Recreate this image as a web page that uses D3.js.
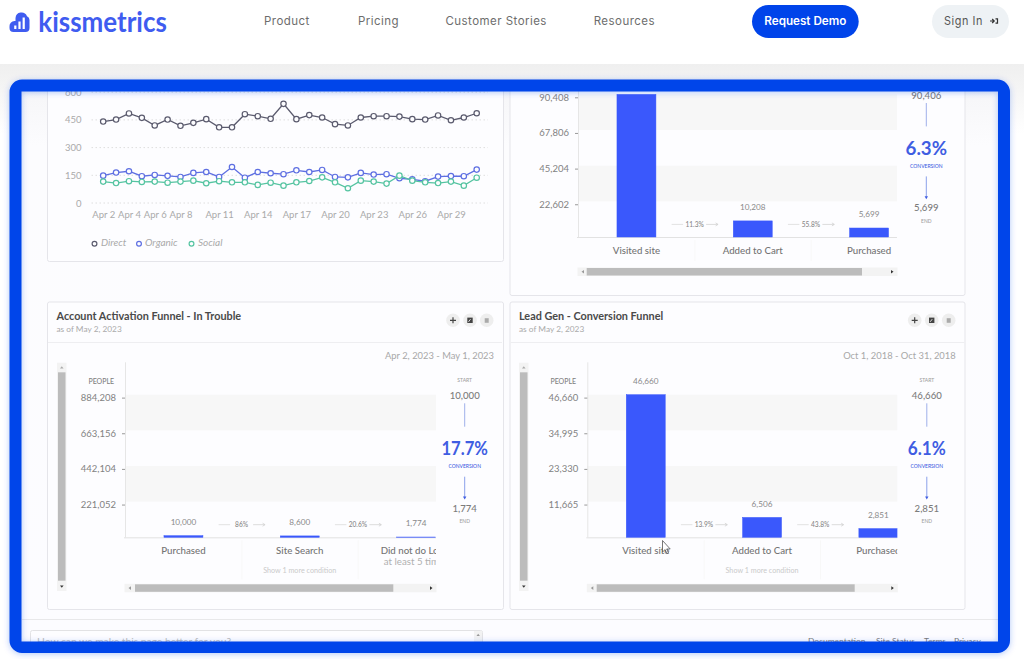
<!DOCTYPE html>
<html>
<head>
<meta charset="utf-8">
<script src="https://cdn.jsdelivr.net/npm/d3@7/dist/d3.min.js"></script>
<style>
html,body{margin:0;padding:0;background:#fff;overflow:hidden}
svg{display:block}
text{font-family:Lato,"Open Sans",sans-serif}
</style>
</head>
<body>
<svg id="page" width="1024" height="659"></svg>
<script>
// Daily people per traffic source, Apr 2 to May 1
const dayLabels = ["Apr 2","Apr 3","Apr 4","Apr 5","Apr 6","Apr 7","Apr 8","Apr 9","Apr 10","Apr 11","Apr 12","Apr 13","Apr 14","Apr 15","Apr 16","Apr 17","Apr 18","Apr 19","Apr 20","Apr 21","Apr 22","Apr 23","Apr 24","Apr 25","Apr 26","Apr 27","Apr 28","Apr 29","Apr 30","May 1"];
const dayTicks = ["Apr 2","Apr 4","Apr 6","Apr 8","Apr 11","Apr 14","Apr 17","Apr 20","Apr 23","Apr 26","Apr 29"];
const direct = [441,452,485,461,420,452,418,434,454,410,410,481,470,456,537,454,476,463,427,420,463,470,470,468,454,452,474,448,463,486];
const organic = [148,165,172,145,152,147,141,163,168,141,195,137,168,161,156,177,168,179,141,139,163,154,156,134,128,118,143,146,145,181];
const social = [116,108,118,114,116,110,116,121,107,118,112,112,98,110,94,112,119,139,112,80,121,116,105,148,121,112,108,116,94,137];
const lineTicks = [0,150,300,450,600];

// Funnel steps
const cartCats = ["Visited site","Added to Cart","Purchased"];
const cartVals = [90406,10208,5699];
const cartRates = ["11.3%","55.8%"];
const cartTicks = [22602,45204,67806,90408];

const activationCats = ["Purchased","Site Search","Did not do Login"];
const activationVals = [10000,8600,1774];
const activationRates = ["86%","20.6%"];
const activationTicks = [221052,442104,663156,884208];

const leadCats = ["Visited site","Added to Cart","Purchased"];
const leadVals = [46660,6506,2851];
const leadRates = ["13.9%","43.8%"];
const leadTicks = [11665,23330,34995,46660];

const navItems = ["Product","Pricing","Customer Stories","Resources"];
const navStarts = [264,358,445.5,593.7];

const BLUE = "#0044ea", BAR = "#3a58fc", ACCENT = "#3f5de2";
const MEDIUM = 500;
const svg = d3.select("#page");
const defs = svg.append("defs");

function label(g, x, y, str, size, color, opts = {}) {
  const t = g.append("text").attr("x", x).attr("y", y).attr("dy", "0.35em")
    .attr("font-size", size).attr("fill", color)
    .attr("text-anchor", opts.anchor || "middle")
    .attr("font-weight", opts.weight || 400).text(str);
  if (opts.italic) t.attr("font-style", "italic");
  if (opts.family) t.style("font-family", opts.family);
  if (opts.spacing) t.attr("letter-spacing", opts.spacing);
  if (opts.length) t.attr("textLength", opts.length).attr("lengthAdjust", "spacingAndGlyphs");
  return t;
}

// Backdrop below the site header
const fade = defs.append("linearGradient").attr("id", "fade").attr("x1", 0).attr("x2", 0).attr("y1", 0).attr("y2", 1);
fade.append("stop").attr("offset", 0).attr("stop-color", "#efefef");
fade.append("stop").attr("offset", 1).attr("stop-color", "#ffffff");
svg.append("rect").attr("width", 1024).attr("height", 659).attr("fill", "#fff");
svg.append("rect").attr("y", 64).attr("width", 1024).attr("height", 70).attr("fill", "url(#fade)");

// Dashboard surface: everything scrolled inside it stops at the blue frame
defs.append("clipPath").attr("id", "viewport").append("rect")
  .attr("x", 20).attr("y", 90).attr("width", 980).attr("height", 553);
const stage = svg.append("g").attr("clip-path", "url(#viewport)");

const wash = defs.append("linearGradient").attr("id", "wash").attr("x1", 0).attr("x2", 0).attr("y1", 0).attr("y2", 1);
wash.append("stop").attr("offset", 0).attr("stop-color", "#f6f6f8");
wash.append("stop").attr("offset", 0.1).attr("stop-color", "#fcfcfe");
wash.append("stop").attr("offset", 1).attr("stop-color", "#fcfcff");
stage.append("rect").attr("x", 20).attr("y", 90).attr("width", 980).attr("height", 553).attr("fill", "url(#wash)");

function panel(x, y, w, h) {
  stage.append("rect").attr("x", x + .5).attr("y", y + .5).attr("width", w).attr("height", h).attr("rx", 2)
    .attr("fill", "#fdfdff").attr("stroke", "#e5e5ea");
}
panel(47, 60, 456, 201);
panel(509.5, 60, 455, 235);
panel(47, 301.5, 456, 307.5);
panel(509.5, 301.5, 455, 307.5);

// Traffic source line chart
const lineG = stage.append("g");
const xLine = d3.scalePoint().domain(dayLabels).range([103.2, 476.7]);
const yLine = d3.scaleLinear().domain([0, 600]).range([203, 92.2]);

lineG.append("g").selectAll("line").data(lineTicks).join("line")
  .attr("x1", 91.5).attr("x2", 488).attr("y1", d => yLine(d)).attr("y2", d => yLine(d))
  .attr("stroke", "#dedede").attr("stroke-dasharray", "1.5 2.5");

const yAxisLine = d3.axisLeft(yLine).tickValues(lineTicks).tickSize(0).tickPadding(0);
lineG.append("g").attr("transform", "translate(81.5,0)").call(yAxisLine)
  .call(g => g.select(".domain").remove())
  .call(g => g.selectAll("text").attr("font-size", 9.5).attr("fill", "#aaaaaa").style("font-family", "Lato"));

const xAxisLine = d3.axisBottom(xLine).tickValues(dayTicks).tickSize(0).tickPadding(0);
lineG.append("g").attr("transform", "translate(0,211)").call(xAxisLine)
  .call(g => g.select(".domain").remove())
  .call(g => g.selectAll("text").attr("font-size", 9.5).attr("fill", "#aaaaaa").style("font-family", "Lato"));

const lineSeries = [
  {name: "Direct", values: direct, color: "#5b5b6e", lx: 94.5, tx: 101},
  {name: "Organic", values: organic, color: "#5e6fe2", lx: 139, tx: 145},
  {name: "Social", values: social, color: "#55c4a1", lx: 191.5, tx: 198}
];
const linePath = d3.line().x((d, i) => xLine(dayLabels[i])).y(d => yLine(d));
lineSeries.forEach(s => {
  lineG.append("path").attr("d", linePath(s.values)).attr("fill", "none").attr("stroke", s.color).attr("stroke-width", 1.3);
  lineG.append("g").selectAll("circle").data(s.values).join("circle")
    .attr("cx", (d, i) => xLine(dayLabels[i])).attr("cy", d => yLine(d)).attr("r", 2.7)
    .attr("fill", "#fdfdff").attr("stroke", s.color).attr("stroke-width", 1.2);
  lineG.append("circle").attr("cx", s.lx).attr("cy", 243.7).attr("r", 2.4)
    .attr("fill", "none").attr("stroke", s.color).attr("stroke-width", 1.2);
  label(lineG, s.tx, 242.5, s.name, 10, "#aaaaaa", {anchor: "start", italic: true});
});

// Shared funnel drawing
let clipId = 0;
function funnel(cfg) {
  const g = stage.append("g");
  const {left, width, base, cats, vals, rates, ticks, summaryX, summaryShift} = cfg;
  const right = left + width;
  const id = "plot" + (clipId++);
  defs.append("clipPath").attr("id", id).append("rect")
    .attr("x", left - 1).attr("y", 60).attr("width", width + 1).attr("height", 540);

  const y = d3.scaleLinear().domain([0, ticks[3]]).range([base, base - 142.6]);
  const x = d3.scaleBand().domain(cats).range([left, left + 349.5]).paddingInner(0.665).paddingOuter(0.335);

  // alternating bands sit between every second pair of ticks
  g.append("g").selectAll("rect").data([[ticks[2], ticks[3]], [ticks[0], ticks[1]]]).join("rect")
    .attr("x", left).attr("width", width).attr("y", d => y(d[1])).attr("height", d => y(d[0]) - y(d[1])).attr("fill", "#f7f7f7");

  g.append("line").attr("x1", left + .5).attr("x2", left + .5).attr("y1", base - 175).attr("y2", base).attr("stroke", "#e6e6e6");
  g.append("line").attr("x1", left - 1).attr("x2", right).attr("y1", base + .5).attr("y2", base + .5).attr("stroke", "#e2e2e2");

  const axis = d3.axisLeft(y).tickValues(ticks).tickSize(3).tickPadding(6).tickFormat(d3.format(","));
  g.append("g").attr("transform", `translate(${left},2.9)`).call(axis)
    .call(a => a.select(".domain").remove())
    .call(a => a.selectAll("line").attr("stroke", "#999"))
    .call(a => a.selectAll("text").attr("font-size", 9.5).attr("fill", "#828282").style("font-family", "Lato"));

  const plot = g.append("g").attr("clip-path", `url(#${id})`);
  plot.selectAll("rect.bar").data(vals).join("rect").attr("class", "bar")
    .attr("x", (d, i) => x(cats[i])).attr("width", x.bandwidth())
    .attr("y", d => y(d)).attr("height", d => base - y(d))
    .attr("fill", BAR).attr("stroke", BAR).attr("stroke-width", .5);

  vals.forEach((v, i) => {
    const cx = x(cats[i]) + x.bandwidth() / 2;
    label(plot, cx, y(v) - 13.6, d3.format(",")(v), 8.2, "#8a8a8a");
    label(plot, cx, base + 13.6, cats[i], 9.7, "#747474", {weight: MEDIUM});
  });

  rates.forEach((r, i) => {
    const mid = x(cats[i]) + x.bandwidth() + (x.step() - x.bandwidth()) / 2;
    const ry = base - 12.6;
    label(plot, mid, ry, r, 6.6, "#888888", {weight: MEDIUM});
    plot.append("line").attr("x1", mid - 23).attr("x2", mid - 11.5).attr("y1", ry).attr("y2", ry).attr("stroke", "#e2e2e2");
    plot.append("line").attr("x1", mid + 11.5).attr("x2", mid + 23).attr("y1", ry).attr("y2", ry).attr("stroke", "#dcdcdc");
    plot.append("path").attr("d", `M${mid + 21},${ry - 1.5}L${mid + 23.5},${ry}L${mid + 21},${ry + 1.5}`).attr("fill", "none").attr("stroke", "#ccc").attr("stroke-width", .7);
  });

  if (cfg.extraLine) label(plot, x(cats[2]) + x.bandwidth() / 2, base + 24, cfg.extraLine, 9.7, "#b0b0b0");
  const sepBottom = cfg.showMore ? 42 : 24;
  if (cfg.showMore) {
    label(plot, x(cats[1]) + x.bandwidth() / 2, base + 33, "Show 1 more condition", 7.2, "#cacaca");
  }
  [x(cats[0]) + x.bandwidth() + 39, x(cats[1]) + x.bandwidth() + 39].forEach(sx =>
    plot.append("line").attr("x1", sx).attr("x2", sx).attr("y1", base + 3).attr("y2", base + sepBottom).attr("stroke", "#f8f8f8"));

  // Horizontal scroll bar
  const sy = base + 30.5 + (cfg.showMore ? 16 : 0);
  g.append("rect").attr("x", left - .5).attr("y", sy).attr("width", width + 1).attr("height", 8.5).attr("fill", "#f3f3f3");
  g.append("rect").attr("x", cfg.thumb[0]).attr("y", sy + .5).attr("width", cfg.thumb[1] - cfg.thumb[0]).attr("height", 7.5).attr("fill", "#bcbcbc");
  g.append("path").attr("d", `M${left + 6},${sy + 2.5}l-2.5,1.8l2.5,1.8z`).attr("fill", "#999");
  g.append("path").attr("d", `M${right - 6},${sy + 2.5}l2.5,1.8l-2.5,1.8z`).attr("fill", "#333");

  // Start / conversion / end column
  const s = g.append("g").attr("transform", `translate(${summaryX},${summaryShift})`);
  label(s, 0, 380.7, "START", 5, "#a0a0a0", {weight: MEDIUM});
  label(s, 0, 396, d3.format(",")(cfg.start), 9.6, "#7c7c7c", {weight: MEDIUM});
  s.append("line").attr("x1", 0).attr("x2", 0).attr("y1", 403.3).attr("y2", 426.7).attr("stroke", "#9fb0ea").attr("stroke-width", 1);
  label(s, 0, 448.3, cfg.conversion, 19, ACCENT, {weight: 700, length: cfg.conversionWidth});
  label(s, 0, 466.3, "CONVERSION", 5, ACCENT, {weight: MEDIUM});
  s.append("line").attr("x1", 0).attr("x2", 0).attr("y1", 476.7).attr("y2", 497).attr("stroke", "#8aa0ea").attr("stroke-width", 1);
  s.append("path").attr("d", "M-1.7,496.5L1.7,496.5L0,499.5Z").attr("fill", ACCENT);
  label(s, 0, 508.3, d3.format(",")(cfg.end), 9.6, "#7c7c7c", {weight: MEDIUM});
  label(s, 0, 521.3, "END", 5, "#a0a0a0", {weight: MEDIUM});
  return g;
}

funnel({left: 578, width: 319, base: 237, cats: cartCats, vals: cartVals, rates: cartRates, ticks: cartTicks,
  summaryX: 926.3, summaryShift: -300.3, start: 90406, conversion: "6.3%", conversionWidth: 41.5, end: 5699, thumb: [586.7, 862], showMore: false});
funnel({left: 125, width: 311, base: 537.3, cats: activationCats, vals: activationVals, rates: activationRates, ticks: activationTicks,
  summaryX: 464.7, summaryShift: 0, start: 10000, conversion: "17.7%", conversionWidth: 46.5, end: 1774, thumb: [135, 393.3], showMore: true, extraLine: "at least 5 times"});
funnel({left: 587.3, width: 310, base: 537.3, cats: leadCats, vals: leadVals, rates: leadRates, ticks: leadTicks,
  summaryX: 926.8, summaryShift: 0, start: 46660, conversion: "6.1%", conversionWidth: 38, end: 2851, thumb: [596.7, 854.7], showMore: true});

// Panel headers and vertical scroll bars
function header(px, title, range, rangeX, icons, vx) {
  const g = stage.append("g");
  label(g, px + 9.5, 316, title, 10.85, "#4a4a4a", {anchor: "start", weight: 700});
  label(g, px + 9.5, 329, "as of May 2, 2023", 8.3, "#aaa", {anchor: "start"});
  g.append("line").attr("x1", px + 1).attr("x2", px + 455).attr("y1", 342.5).attr("y2", 342.5).attr("stroke", "#eeeef1");
  label(g, rangeX, 355.7, range, 9.4, "#a8a8a8", {anchor: "end"});
  label(g, vx + 44.3, 381.7, "PEOPLE", 7, "#808080", {weight: MEDIUM});

  icons.forEach((ix, i) => {
    g.append("circle").attr("cx", ix).attr("cy", 320.3).attr("r", 6.8).attr("fill", "#eeeeee");
    if (i === 0) g.append("path").attr("d", `M${ix - 3},320.3h6M${ix},317.3v6`).attr("stroke", "#444").attr("stroke-width", 1.2);
    if (i === 1) {
      g.append("rect").attr("x", ix - 2.7).attr("y", 317.6).attr("width", 5.4).attr("height", 5.4).attr("fill", "#444");
      g.append("path").attr("d", `M${ix - 1.5},321.8L${ix + .5},319.2`).attr("stroke", "#eee").attr("stroke-width", .9);
    }
    if (i === 2) g.append("path").attr("d", `M${ix - 2},318.2h4v4.6h-4z`).attr("fill", "#aaa");
  });

  g.append("rect").attr("x", vx).attr("y", 362.7).attr("width", 9.5).attr("height", 228.3).attr("fill", "#f3f3f3");
  g.append("rect").attr("x", vx + 1).attr("y", 372.3).attr("width", 7.5).attr("height", 208.4).attr("fill", "#bcbcbc");
  g.append("path").attr("d", `M${vx + 3},368.5l1.8,-2.3l1.8,2.3z`).attr("fill", "#aaa");
  g.append("path").attr("d", `M${vx + 3},585.5l1.8,2.3l1.8,-2.3z`).attr("fill", "#333");
}
header(47, "Account Activation Funnel - In Trouble", "Apr 2, 2023 - May 1, 2023", 494, [453, 470, 486.7], 57);
header(509.5, "Lead Gen - Conversion Funnel", "Oct 1, 2018 - Oct 31, 2018", 955.7, [914.7, 931.7, 948.7], 519);

// Feedback box and links along the bottom
stage.append("line").attr("x1", 22).attr("x2", 998).attr("y1", 619.5).attr("y2", 619.5).attr("stroke", "#e8e8ea");
stage.append("rect").attr("x", 30.5).attr("y", 630.5).attr("width", 452).attr("height", 30).attr("rx", 2).attr("fill", "#fdfdff").attr("stroke", "#e2e2e4");
stage.append("rect").attr("x", 474).attr("y", 631).attr("width", 8).attr("height", 20).attr("fill", "#f2f2f2");
stage.append("path").attr("d", "M476.5,636l1.7,-2.2l1.7,2.2z").attr("fill", "#999");
label(stage, 37, 641, "How can we make this page better for you?", 10, "#bbb", {anchor: "start", length: 194});
label(stage, 808, 641, "Documentation", 8.4, "#777", {anchor: "start"});
label(stage, 876, 641, "Site Status", 8.4, "#777", {anchor: "start"});
label(stage, 924, 641, "Terms", 8.4, "#777", {anchor: "start"});
label(stage, 954, 641, "Privacy", 8.4, "#777", {anchor: "start"});

// Pointer resting on the last funnel
stage.append("path").attr("d", "M662.5,540.5v11.5l2.6,-2.4l1.8,4l1.6,-.7l-1.8,-3.9h3.5z")
  .attr("fill", "#fff").attr("stroke", "#555").attr("stroke-width", .8);

// Blue frame with its soft glow
const glow = defs.append("filter").attr("id", "glow").attr("x", "-5%").attr("y", "-5%").attr("width", "110%").attr("height", "110%");
glow.append("feDropShadow").attr("dx", 0).attr("dy", 1).attr("stdDeviation", 3).attr("flood-color", BLUE).attr("flood-opacity", .3);
svg.append("path").attr("fill-rule", "evenodd").attr("fill", BLUE).attr("filter", "url(#glow)")
  .attr("d", "M22,79.5H997.5a12.5,12.5 0 0 1 12.5,12.5V640.5a12.5,12.5 0 0 1 -12.5,12.5H22a12.5,12.5 0 0 1 -12.5,-12.5V92a12.5,12.5 0 0 1 12.5,-12.5Z" +
             "M21.5,91.5V641.5H998V91.5Z");

// Site header
const siteHeader = svg.append("g");
siteHeader.append("rect").attr("width", 1024).attr("height", 64).attr("fill", "#fff");
const LOGO = "#3f5cf0";
// Cloud-shaped mark with three rising white bars
siteHeader.append("path").attr("fill", LOGO)
  .attr("d", "M9.5,26.5a5,5 0 0 1 5,-5.5h1v-3a6,6 0 0 1 11.5,-1.8a4,4 0 0 1 2.5,3.8v8a4,4 0 0 1 -4,4h-12a4,4 0 0 1 -4,-4z");
[[14.2, 25.5, 3.5], [18.4, 21.5, 7.5], [22.6, 17.5, 11.5]].forEach(b =>
  siteHeader.append("rect").attr("x", b[0]).attr("y", b[1]).attr("width", 2.2).attr("height", b[2]).attr("fill", "#fff"));
label(siteHeader, 38.3, 22, "kissmetrics", 28.5, LOGO, {anchor: "start", weight: 700, length: 128.5});

navItems.forEach((n, i) => label(siteHeader, navStarts[i], 21, n, 11.5, "#6d6d6d", {anchor: "start", spacing: 0.45, family: "Inter"}));

siteHeader.append("rect").attr("x", 752).attr("y", 5).attr("width", 106.7).attr("height", 33).attr("rx", 16.5).attr("fill", BLUE);
label(siteHeader, 805.3, 21, "Request Demo", 11.3, "#fff", {weight: 600, family: "Inter", length: 82});
siteHeader.append("rect").attr("x", 932).attr("y", 5).attr("width", 77).attr("height", 33).attr("rx", 16.5).attr("fill", "#eef2f5");
label(siteHeader, 944, 21, "Sign In", 11.5, "#555", {anchor: "start", family: "Inter", spacing: 0.6, length: 39});
siteHeader.append("path").attr("d", "M990,21h3.5M992.2,19l2,2l-2,2").attr("stroke", "#333").attr("stroke-width", 1.2).attr("fill", "none");
siteHeader.append("path").attr("d", "M995.5,18.8h2v4.4h-2").attr("stroke", "#333").attr("stroke-width", 1.2).attr("fill", "none");
</script>
</body>
</html>
